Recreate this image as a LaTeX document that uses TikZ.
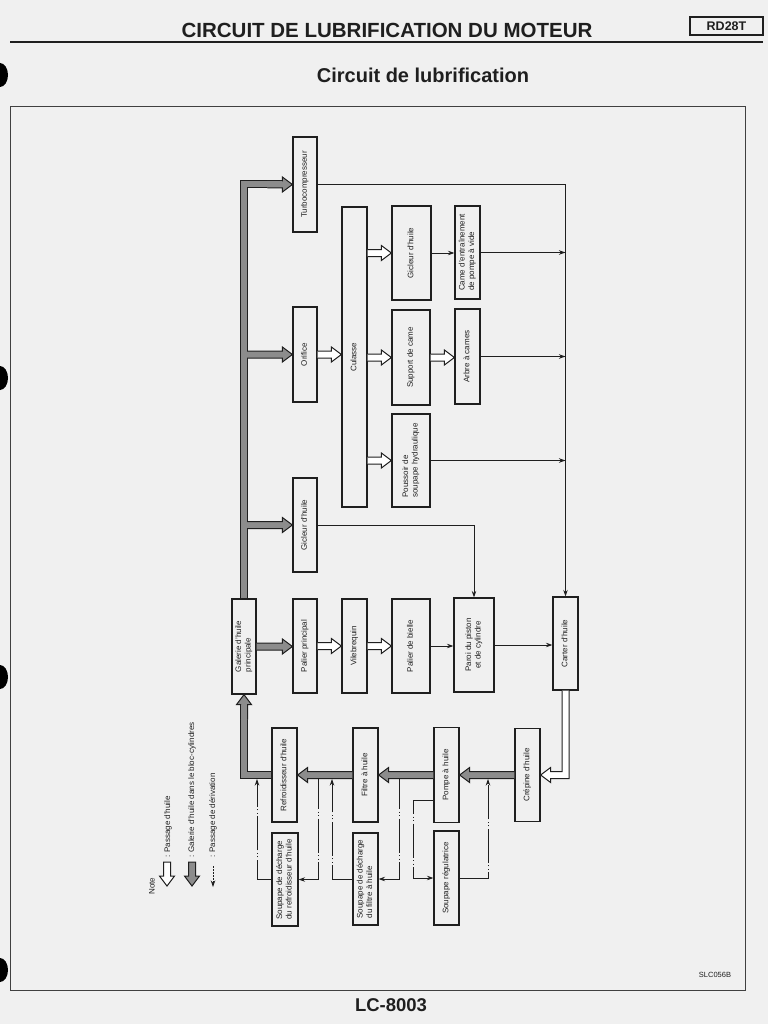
\documentclass[tikz,border=0pt]{standalone}
\usepackage{fontspec}
\setmainfont{Liberation Sans}
\usetikzlibrary{arrows.meta,calc}
\definecolor{bg}{gray}{0.94}
\definecolor{ink}{gray}{0.12}
\definecolor{hatch}{gray}{0.55}
\newcommand\rt[1]{\rotatebox{90}{\begin{tabular}{@{}l@{}}#1\end{tabular}}}
\newcommand\rtc[1]{\rotatebox{90}{\begin{tabular}{@{}c@{}}#1\end{tabular}}}
\newcommand\fatR[3]{\path[#1] let \p1=(#2), \p2=(#3) in (\x1,\y1+3.5pt) -- (\x2-10pt,\y1+3.5pt) -- (\x2-10pt,\y1+7.5pt) -- (\x2,\y1) -- (\x2-10pt,\y1-7.5pt) -- (\x2-10pt,\y1-3.5pt) -- (\x1,\y1-3.5pt);}
\newcommand\fatL[3]{\path[#1] let \p1=(#2), \p2=(#3) in (\x1,\y1+3.5pt) -- (\x2+10pt,\y1+3.5pt) -- (\x2+10pt,\y1+7.5pt) -- (\x2,\y1) -- (\x2+10pt,\y1-7.5pt) -- (\x2+10pt,\y1-3.5pt) -- (\x1,\y1-3.5pt);}
\newcommand\fatU[3]{\path[#1] let \p1=(#2), \p2=(#3) in (\x1-3.5pt,\y1) -- (\x1-3.5pt,\y2-10pt) -- (\x1-7.5pt,\y2-10pt) -- (\x1,\y2) -- (\x1+7.5pt,\y2-10pt) -- (\x1+3.5pt,\y2-10pt) -- (\x1+3.5pt,\y1);}
\tikzset{
 box/.style={draw=ink, line width=1.2pt, fill=bg, inner sep=0pt, font=\fontsize{8}{9.5}\selectfont, text=ink},
 tarrow/.style={draw=ink, line width=0.9pt, -{Stealth[length=6.5pt,width=4.5pt]}},
 byp/.style={draw=ink, line width=0.8pt, dash pattern=on 34pt off 2.5pt on 1pt off 2.5pt on 1pt off 2.5pt, -{Stealth[length=6.5pt,width=4.5pt]}},
 gfat/.style={fill=hatch, draw=ink, line width=1pt, line join=miter},
 wfat/.style={fill=white, draw=ink, line width=1pt, line join=miter},
 trunkb/.style={draw=ink, line width=8pt, line join=miter},
 trunkg/.style={draw=hatch, line width=6pt, line join=miter},
 lg/.style={font=\fontsize{8}{9.5}\selectfont, text=ink, inner sep=0pt},
}
\begin{document}
\begin{tikzpicture}[x=1pt,y=-1pt]
\useasboundingbox (0,0) rectangle (768,1024);
\fill[bg] (0,0) rectangle (768,1024);
% binder holes
\foreach \hy in {75,378,677,970} \fill[black] (0,\hy) ellipse [x radius=8pt, y radius=12pt];
% header
\node[font=\bfseries\fontsize{20.5}{24}\selectfont, text=ink] (title) at (387,30) {CIRCUIT DE LUBRIFICATION DU MOTEUR};
\draw[ink, line width=2.5pt] (10,42) -- (763,42);
\node[draw=ink, line width=1.2pt, minimum width=73pt, minimum height=18pt, inner sep=0pt, font=\bfseries\fontsize{12.5}{14}\selectfont, text=ink] (rd) at (726.5,26) {RD28T};
\node[font=\bfseries\fontsize{20}{23}\selectfont, text=ink] (sub) at (423,75) {Circuit de lubrification};
\draw[gray!50!black, line width=0.9pt] (10,106) rectangle (745,990);
\node[font=\fontsize{7.5}{8}\selectfont, text=ink] (slc) at (715,975) {SLC056B};
\node[font=\bfseries\fontsize{18.5}{21}\selectfont, text=ink] (lc) at (391,1005) {LC-8003};

% boxes
\node[box, minimum width=24pt, minimum height=95pt] (turbo) at (305,184.5) {\rt{Turbocompresseur}};
\node[box, minimum width=24pt, minimum height=95pt] (orifice) at (305,354.5) {\rt{Orifice}};
\node[box, minimum width=24pt, minimum height=94pt] (gic2) at (305,525) {\rt{Gicleur d'huile}};
\node[box, minimum width=24pt, minimum height=95pt] (galerie) at (244,646.5) {\rt{Galerie d'huile\\principale}};
\node[box, minimum width=24pt, minimum height=94pt] (palier) at (305,646) {\rt{Palier principal}};
\node[box, minimum width=25pt, minimum height=300pt] (culasse) at (354.5,357) {\rt{Culasse}};
\node[box, minimum width=25pt, minimum height=94pt] (vileb) at (354.5,646) {\rt{Vilebrequin}};
\node[box, minimum width=39pt, minimum height=94pt] (gic1) at (411.5,253) {\rt{Gicleur d'huile}};
\node[box, minimum width=38pt, minimum height=95pt] (support) at (411,357.5) {\rt{Support de came}};
\node[box, minimum width=38pt, minimum height=93pt] (pous) at (411,460.5) {\rt{Poussoir de\\soupape hydraulique}};
\node[box, minimum width=38pt, minimum height=94pt] (bielle) at (411,646) {\rt{Palier de bielle}};
\node[box, minimum width=25pt, minimum height=93pt] (came) at (467.5,252.5) {\rt{Came d'entraînement\\de pompe à vide}};
\node[box, minimum width=25pt, minimum height=95pt] (arbre) at (467.5,356.5) {\rt{Arbre à cames}};
\node[box, minimum width=40pt, minimum height=94pt] (paroi) at (474,645) {\rtc{Paroi du piston\\et de cylindre}};
\node[box, minimum width=25pt, minimum height=93pt] (carter) at (565.5,643.5) {\rt{Carter d'huile}};
\node[box, minimum width=25pt, minimum height=94pt] (refr) at (284.5,775) {\rt{Refroidisseur d'huile}};
\node[box, minimum width=25pt, minimum height=94pt] (filtre) at (365.5,775) {\rt{Filtre à huile}};
\node[box, minimum width=25pt, minimum height=95pt] (pompe) at (446.5,775) {\rt{Pompe à huile}};
\node[box, minimum width=25pt, minimum height=93pt] (crepine) at (527.5,775) {\rt{Crépine d'huile}};
\node[box, minimum width=26pt, minimum height=93pt] (sdr) at (285,879.5) {\rt{Soupape de décharge\\du refroidisseur d'huile}};
\node[box, minimum width=25pt, minimum height=92pt] (sdf) at (365.5,879) {\rt{Soupape de décharge\\du filtre à huile}};
\node[box, minimum width=25pt, minimum height=94pt] (sreg) at (446.5,878) {\rt{Soupape régulatrice}};

% thin oil return lines
\draw[tarrow] (turbo.east) -| (carter.north);
\draw[tarrow] (gic1.east) -- (gic1.east -| came.west);
\draw[tarrow] (came.east) -- (came.east -| carter.north);
\draw[tarrow] (arbre.east) -- (arbre.east -| carter.north);
\draw[tarrow] (pous.east) -- (pous.east -| carter.north);
\draw[tarrow] (gic2.east) -| (paroi.north);
\draw[tarrow] (bielle.east) -- (bielle.east -| paroi.west);
\draw[tarrow] (paroi.east) -- (paroi.east -| carter.west);

% bypass lines
\coordinate (b1) at (318,775);
\coordinate (b2) at (257,779);
\coordinate (b3) at (399,775);
\coordinate (b4) at (332,779);
\coordinate (b6) at (488,779);
\draw[byp] (b1) |- (sdr.east);
\draw[byp] (sdr.west) -| (b2);
\draw[byp] (b3) |- (sdf.east);
\draw[byp] (sdf.west) -| (b4);
\draw[byp] ([yshift=-25pt]pompe.west) -- ++(-20,0) |- (sreg.west);
\draw[byp] (sreg.east) -| (b6);

% main gallery (cylinder block)
\draw[trunkb] (galerie.north) -- (galerie.north |- turbo.west) -- ([xshift=-10pt]turbo.west);
\draw[trunkb] (refr.west) -- (refr.west -| galerie.south) -- ([yshift=-10pt]galerie.south);
\fatR{gfat}{[xshift=-25pt]turbo.west}{turbo.west}
\fatR{gfat}{galerie.north |- orifice.west}{orifice.west}
\fatR{gfat}{galerie.north |- gic2.west}{gic2.west}
\fatR{gfat}{galerie.east}{palier.west}
\fatL{gfat}{crepine.west}{pompe.east}
\fatL{gfat}{pompe.west}{filtre.east}
\fatL{gfat}{filtre.west}{refr.east}
\fatU{gfat}{[yshift=-25pt]galerie.south}{galerie.south}
\draw[trunkg] (galerie.north) -- (galerie.north |- turbo.west) -- ([xshift=-10pt]turbo.west);
\draw[trunkg] (refr.west) -- (refr.west -| galerie.south) -- ([yshift=-10pt]galerie.south);

% oil passages (white)
\fatR{wfat}{orifice.east}{culasse.west}
\fatR{wfat}{culasse.east |- gic1.west}{gic1.west}
\fatR{wfat}{culasse.east |- support.west}{support.west}
\fatR{wfat}{support.east}{arbre.west}
\fatR{wfat}{culasse.east |- pous.west}{pous.west}
\fatR{wfat}{palier.east}{vileb.west}
\fatR{wfat}{vileb.east}{bielle.west}
\path[wfat] let \p1=(carter.south), \p2=(crepine.east) in (\x1-3.5pt,\y1) -- (\x1-3.5pt,\y2+3.5pt) -- (\x2+10pt,\y2+3.5pt) -- (\x2+10pt,\y2+7.5pt) -- (\x2,\y2) -- (\x2+10pt,\y2-7.5pt) -- (\x2+10pt,\y2-3.5pt) -- (\x1+3.5pt,\y2-3.5pt) -- (\x1+3.5pt,\y1);

% legend
\node[lg, rotate=90] (note) at (152,886) {Note};
\filldraw[wfat] (163.5,862) -- (163.5,876) -- (159.5,876) -- (167,886) -- (174.5,876) -- (170.5,876) -- (170.5,862) -- cycle;
\filldraw[gfat] (188.5,862) -- (188.5,876) -- (184.5,876) -- (192,886) -- (199.5,876) -- (195.5,876) -- (195.5,862) -- cycle;
\draw[ink, line width=0.8pt, dash pattern=on 1.5pt off 1.5pt, -{Stealth[length=6.5pt,width=4.5pt]}] (213,866) -- (213,887);
\node[lg, rotate=90, anchor=west] (lg1) at (168,858) {: Passage d'huile};
\node[lg, rotate=90, anchor=west] (lg2) at (192,858) {: Galerie d'huile dans le bloc-cylindres};
\node[lg, rotate=90, anchor=west] (lg3) at (213,858) {: Passage de dérivation};
\end{tikzpicture}
\end{document}
